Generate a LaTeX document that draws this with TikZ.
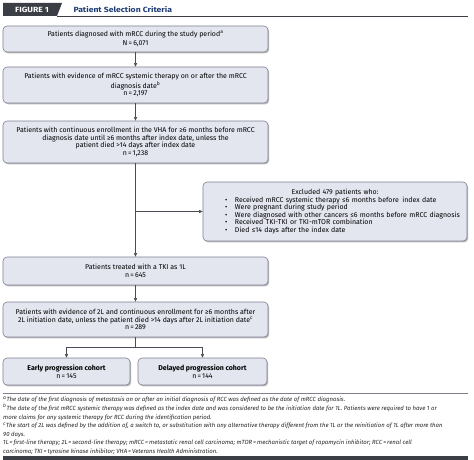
\documentclass[tikz,border=0pt]{standalone}
\usepackage{fontspec}
\setmainfont{Fira Sans}
\newfontfamily\headfont{Fira Sans}[FakeStretch=1.15]
\usetikzlibrary{arrows.meta,positioning,calc,shadows}
\definecolor{cajafondo}{HTML}{E3E5EF}
\definecolor{cajaborde}{HTML}{7D8090}
\definecolor{tinta}{HTML}{4A4C55}
\definecolor{marino}{HTML}{1F3B73}
\definecolor{cabecera}{HTML}{3B3E45}
\newcommand{\bullitem}{\hspace*{18pt}\makebox[10pt][l]{•}}
\begin{document}
\begin{tikzpicture}[x=1pt, y=-1pt,
  box/.style={
    draw=cajaborde, fill=cajafondo, rounded corners=4pt, line width=0.6pt,
    minimum width=265pt, align=center, inner sep=2pt,
    font=\fontsize{7}{7.5}\selectfont,
    drop shadow={shadow xshift=1.2pt, shadow yshift=-1.4pt, fill=black!50, opacity=0.55}
  },
  arr/.style={-{Triangle[length=3.5pt, width=3pt]}, draw=tinta, line width=0.5pt}
]
  \useasboundingbox (0,0) rectangle (474,460);
  % header
  \fill[cabecera] (3,3) -- (62,3) -- (57,16) -- (3,16) -- cycle;
  \node[text=white, font=\headfont\bfseries\fontsize{7.5}{8}\selectfont] (fig) at (32,9.5) {FIGURE 1};
  \node[anchor=west, text=marino, font=\headfont\bfseries\fontsize{7.5}{8}\selectfont] (tit) at (70,9.5) {Patient Selection Criteria};
  \draw[cabecera, line width=0.8pt] (57,16) -- (468,16);
  % main column
  \node[box, minimum height=26pt, font=\fontsize{7}{9.2}\selectfont] (diag) at (135.5,39)
    {Patients diagnosed with mRCC during the study period\textsuperscript{a}\\ N\,=\,6,071};
  \node[box, minimum height=36pt] (sys) at (135.5,85)
    {Patients with evidence of mRCC systemic therapy on or after the mRCC\\ diagnosis date\textsuperscript{b}\\ n\,=\,2,197};
  \node[box, minimum height=42pt] (enr) at (135.5,142)
    {Patients with continuous enrollment in the VHA for ≥6 months before mRCC\\ diagnosis date until ≥6 months after index date, unless the\\ patient died >14 days after index date\\ n\,=\,1,238};
  \node[box, minimum width=264pt, minimum height=59pt, text width=256pt, align=left] (exc) at (335,211.5)
    {\makebox[\linewidth][c]{Excluded 479 patients who:}\\
     \bullitem Received mRCC systemic therapy ≤6 months before\, index date\\
     \bullitem Were pregnant during study period\\
     \bullitem Were diagnosed with other cancers ≤6 months before mRCC diagnosis\\
     \bullitem Received TKI-TKI or TKI-mTOR combination\\
     \bullitem Died ≤14 days after the index date};
  \node[box, minimum height=28pt] (tki) at (135.5,271)
    {Patients treated with a TKI as 1L\\ n\,=\,645};
  \node[box, minimum height=35pt] (sec) at (135.5,319.5)
    {Patients with evidence of 2L and continuous enrollment for ≥6 months after\\ 2L initiation date, unless the patient died >14 days after 2L initiation date\textsuperscript{c}\\ n\,=\,289};
  \node[box, minimum width=127pt, minimum height=27pt] (early) at (66.5,371.5)
    {\textbf{Early progression cohort}\\ n\,=\,145};
  \node[box, minimum width=129pt, minimum height=27pt] (late) at (202.5,371.5)
    {\textbf{Delayed progression cohort}\\ n\,=\,144};
  % connectors
  \draw[arr] (diag) -- (sys);
  \draw[arr] (sys) -- (enr);
  \draw[arr] (enr) -- (tki);
  \coordinate (brk) at (enr.south |- exc.west);
  \draw[arr] (brk) -- (exc.west);
  \draw[arr] (tki) -- (sec);
  \coordinate (split) at ($(sec.south)+(0,10)$);
  \draw[tinta, line width=0.5pt] (sec.south) -- (split);
  \draw[arr] (split) -| (early.north);
  \draw[arr] (split) -| (late.north);
  % footnotes
  \draw[cajaborde, line width=0.5pt] (3,393) -- (468,393);
  \node[anchor=north west, align=left, inner sep=0pt, text=black!85,
        font=\itshape\fontsize{6}{8.6}\selectfont] (notes) at (3,396.5)
    {\textsuperscript{a}The date of the first diagnosis of metastasis on or after an initial diagnosis of RCC was defined as the date of mRCC diagnosis.\\
     \textsuperscript{b}The date of the first mRCC systemic therapy was defined as the index date and was considered to be the initiation date for 1L. Patients were required to have 1 or\\
     more claims for any systemic therapy for RCC during the identification period.\\
     \textsuperscript{c}The start of 2L was defined by the addition of, a switch to, or substitution with any alternative therapy different from the 1L or the reinitiation of 1L after more than\\
     90 days.\\
     1L\,=\,first-line therapy; 2L\,=\,second-line therapy; mRCC\,=\,metastatic renal cell carcinoma; mTOR\,=\,mechanistic target of rapamycin inhibitor; RCC\,=\,renal cell\\
     carcinoma; TKI\,=\,tyrosine kinase inhibitor; VHA\,=\,Veterans Health Administration.};
  \fill[cabecera] (3,456) rectangle (468,460);
\end{tikzpicture}
\end{document}
